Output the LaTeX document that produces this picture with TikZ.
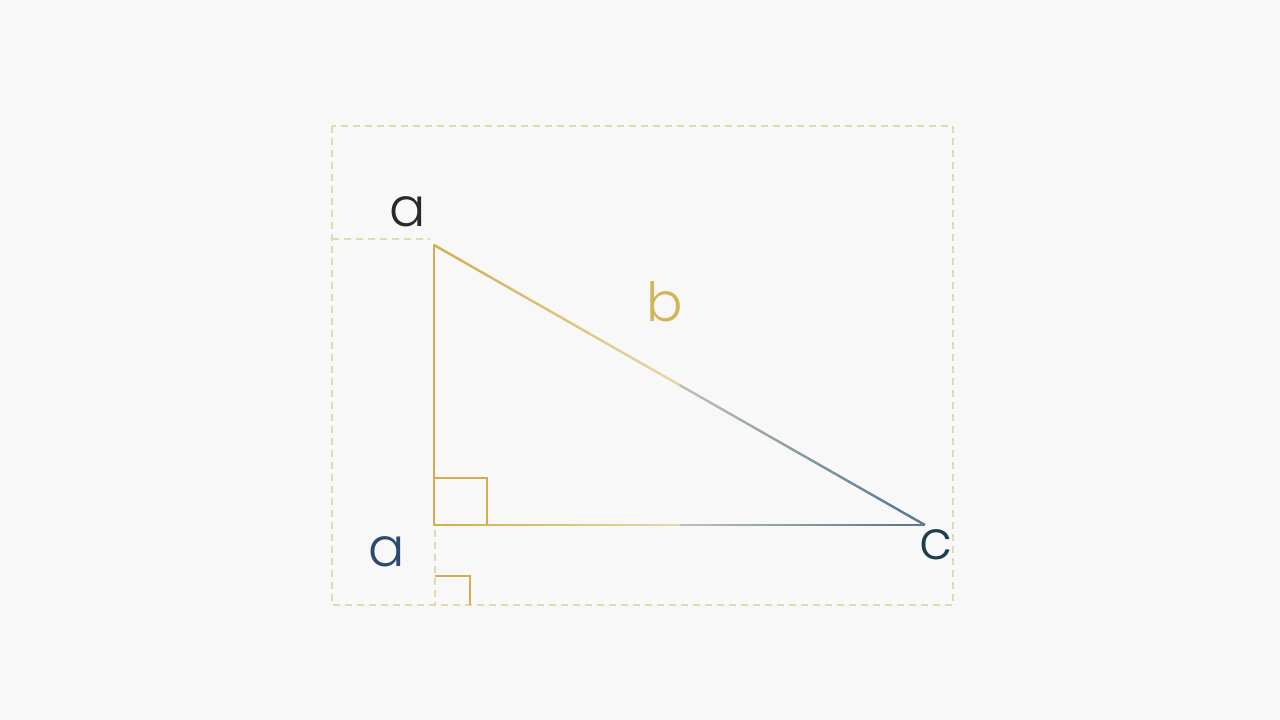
\documentclass[tikz,border=0pt]{standalone}
\usepackage{fontspec}
\setmainfont{Poppins}[UprightFont=* Light]
\usetikzlibrary{calc}
\definecolor{bg}{HTML}{F8F8F8}
\definecolor{gold}{HTML}{D2AE50}
\definecolor{pale}{HTML}{EDE6C4}
\definecolor{slate}{HTML}{5C7C92}
\definecolor{dashc}{HTML}{E2D9AC}
\definecolor{darktxt}{HTML}{2A2A2A}
\definecolor{bluetxt}{HTML}{2C4B6C}
\definecolor{tealtxt}{HTML}{1E3E4E}
\definecolor{goldtxt}{HTML}{D3B458}
\tikzset{
  guide/.style={draw=dashc, line width=1.5pt, dash pattern=on 7pt off 5pt},
  leg/.style={draw=gold, line width=2.4pt},
  lbl/.style={font=\fontsize{54}{58}\selectfont, inner sep=0pt}
}
\begin{document}
\begin{tikzpicture}[x=1pt,y=-1pt]
\fill[bg] (0,0) rectangle (1280,720);
\useasboundingbox (0,0) rectangle (1280,720);
% guides
\coordinate (G1) at (332,126);
\coordinate (G2) at (953,605);
\draw[guide] (G1) rectangle (G2);
\coordinate (H1) at (332,239);
\coordinate (H2) at (430,239);
\draw[guide] (H1) -- (H2);
\coordinate (V1) at (435,530);
\coordinate (V2) at (435,605);
\draw[guide] (V1) -- (V2);
% vertices
\coordinate (A) at (434,245);
\coordinate (B) at (434,525);
\coordinate (C) at (925,525);
% vertical leg
\draw[leg, line cap=round] (A) -- (B);
% gradient hypotenuse and base
\foreach \P/\Q in {A/C,B/C}{
  \foreach \i in {0,...,24}{
    \pgfmathsetmacro\ta{\i/50}
    \pgfmathsetmacro\tb{(\i+1)/50}
    \pgfmathtruncatemacro\p{100-3*\i}
    \draw[draw=gold!\p!pale, line width=2.4pt] ($(\P)!\ta!(\Q)$) -- ($(\P)!\tb!(\Q)$);
  }
  \foreach \i in {25,...,49}{
    \pgfmathsetmacro\ta{\i/50}
    \pgfmathsetmacro\tb{(\i+1)/50}
    \pgfmathtruncatemacro\p{min(100,3*(\i-25)+35)}
    \draw[draw=slate!\p!pale, line width=2.4pt] ($(\P)!\ta!(\Q)$) -- ($(\P)!\tb!(\Q)$);
  }
}
% right angle marks
\coordinate (R1) at (434,478);
\coordinate (R2) at (487,525);
\draw[leg] (R1) -| (R2);
\coordinate (S1) at (435,576);
\coordinate (S2) at (470,605);
\draw[leg] (S1) -| (S2);
% labels
\node[lbl, text=darktxt] (la) at (408,212) {a};
\node[lbl, text=goldtxt] (lb) at (665,302) {b};
\node[lbl, text=bluetxt] (la2) at (387,552) {a};
\node[lbl, text=tealtxt] (lc) at (936,545) {c};
\end{tikzpicture}
\end{document}
